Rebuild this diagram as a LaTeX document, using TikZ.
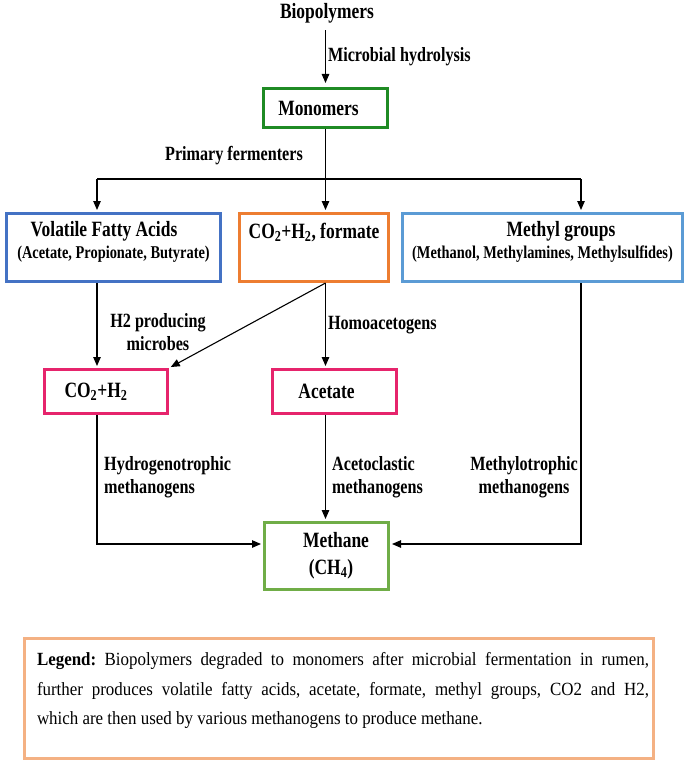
\documentclass[tikz,border=0pt]{standalone}
\usepackage{fontspec}
\setmainfont{Liberation Serif}[FakeStretch=0.91]
\newfontfamily\narrowserif{Liberation Serif}[FakeStretch=0.8]
\usetikzlibrary{arrows.meta}

\definecolor{monogreen}{HTML}{1F8B24}
\definecolor{vfablue}{HTML}{4472C4}
\definecolor{formorange}{HTML}{ED7D31}
\definecolor{methylblue}{HTML}{5B9BD5}
\definecolor{productpink}{HTML}{E6246C}
\definecolor{methanegreen}{HTML}{70AD47}
\definecolor{legendpeach}{HTML}{F4B183}

\newcommand\boxfont{\narrowserif\bfseries\fontsize{21.8}{22}\selectfont}
\newcommand\stepfont{\narrowserif\bfseries\fontsize{20.2}{23}\selectfont}
\newcommand\detailfont{\fontsize{18}{20}\selectfont}
\newcommand\legendfont{\fontsize{18.6}{29.5}\selectfont\frenchspacing}

\begin{document}
\begin{tikzpicture}[x=1pt,y=-1pt,
  arr/.style={-{Triangle[length=9pt,width=7.5pt]}, line width=1.1pt, shorten >=2pt},
  stage/.style={draw, line width=3pt, align=center, font=\boxfont, inner sep=0pt},
  steplabel/.style={font=\stepfont, align=center, inner sep=2pt}]
\useasboundingbox (0,0) rectangle (685,765);
%
\node[font=\boxfont] (bio) at (327,13) {Biopolymers};
\node[stage, draw=monogreen, minimum width=124pt, minimum height=39pt] (mono) at (325.5,108) {Monomers\hspace*{14pt}};
%
\node[stage, draw=vfablue, minimum width=214pt, minimum height=68pt] (vfa) at (113.5,247.5)
  {Volatile Fatty Acids\hspace*{19pt}\\{\detailfont (Acetate, Propionate, Butyrate)}\\[-14pt]\strut};
\node[stage, draw=formorange, minimum width=149pt, minimum height=68pt] (form) at (314,247.5)
  {CO\textsubscript{2}+H\textsubscript{2}, formate\\[4pt]\strut};
\node[stage, draw=methylblue, minimum width=280pt, minimum height=68pt] (meth) at (542.5,247.5)
  {\hspace*{37pt}Methyl groups\\{\detailfont (Methanol, Methylamines, Methylsulfides)}\\[-14pt]\strut};
%
\node[stage, draw=productpink, minimum width=123pt, minimum height=44pt] (co2h) at (106,391.5) {CO\textsubscript{2}+H\textsubscript{2}\hspace*{20pt}};
\node[stage, draw=productpink, minimum width=124pt, minimum height=44pt] (acet) at (334.5,391.5) {Acetate\hspace*{16pt}};
\node[stage, draw=methanegreen, minimum width=124pt, minimum height=67pt] (ch4) at (326.5,556)
  {\hspace*{19pt}Methane\\[5pt]\hspace*{9pt}(CH\textsubscript{4})};
%
\coordinate (busL) at (97,179);
\coordinate (busR) at (581,179);
\coordinate (fork) at (mono.south |- form.south);
%
\draw[arr, shorten <=4pt, shorten >=4pt] (bio.south -| mono.north) -- node[right, steplabel] {Microbial hydrolysis} (mono.north);
\draw[arr] (mono.south) -- (mono.south |- form.north);
\node[steplabel] (ferm) at (234,156) {Primary fermenters};
\draw[line width=1.1pt] (busL) -- (busR);
\draw[arr] (busL) -- (busL |- vfa.north);
\draw[arr] (busR) -- (busR |- meth.north);
%
\draw[arr] (busL |- vfa.south) -- (busL |- co2h.north);
\node[steplabel] (h2prod) at (158,332) {H2 producing\\microbes};
\draw[arr] (fork) -- (co2h.north east);
\draw[arr] (fork) -- node[right, steplabel] {Homoacetogens} (fork |- acet.north);
%
\draw[arr] (busL |- co2h.south) |- ([yshift=12pt]ch4.west);
\draw[arr] (fork |- acet.south) -- (fork |- ch4.north);
\draw[arr] (busR |- meth.south) |- ([yshift=12pt]ch4.east);
\node[steplabel, anchor=west, align=left] (hydro) at (102,477.5) {Hydrogenotrophic\\methanogens};
\node[steplabel, anchor=west, align=left] (aceto) at (330,477.5) {Acetoclastic\\methanogens};
\node[steplabel] (methylo) at (524,477.5) {Methylotrophic\\methanogens};
%
\node[draw=legendpeach, line width=3pt, minimum width=629pt, minimum height=120pt] (legend) at (339,698.5) {};
\node[text width=620pt, align=justify, inner sep=0pt, font=\legendfont] (legendtext) at ([yshift=8pt]legend.center)
  {\leftskip=8pt\textbf{Legend:} Biopolymers degraded to monomers after microbial fermentation in rumen,\linebreak
   further produces volatile fatty acids, acetate, formate, methyl groups, CO2 and H2,\linebreak
   which are then used by various methanogens to produce methane.\par};
\end{tikzpicture}
\end{document}
